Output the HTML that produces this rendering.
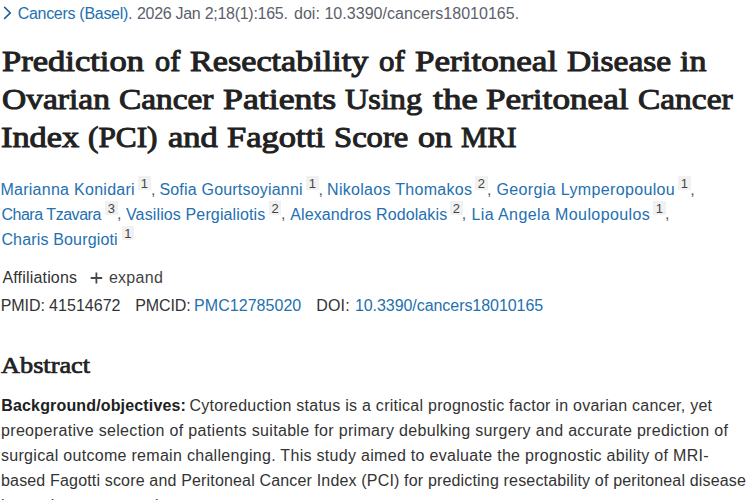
<!DOCTYPE html>
<html><head><meta charset="utf-8">
<style>
html,body{margin:0;padding:0;background:#fff;width:750px;height:500px;overflow:hidden;position:relative}
body{font-family:"Liberation Sans",sans-serif;color:#212121}
.s{position:absolute;white-space:nowrap;line-height:16px;font-size:16px}
.sans{font-family:"Liberation Sans",sans-serif;font-size:16px;color:#333}
.blue{color:#2470b0}
.gray{color:#5b616b}
.dgray{color:#444}
.title{font-family:"Liberation Serif",serif;font-weight:normal;font-size:30px;line-height:31px;color:#212121;transform-origin:0 0;-webkit-text-stroke:1px #212121}
.serifr{font-family:"Liberation Serif",serif;font-size:24px;line-height:24px;color:#212121;transform-origin:0 0;-webkit-text-stroke:0.7px #212121}
.sup{position:absolute;width:12.5px;height:14px;background:#f1f1f1;color:#444;font-size:13px;line-height:16px;text-align:center}
.cm{position:absolute;font-size:16px;line-height:16px;color:#5b616b}
</style></head><body>
<svg style="position:absolute;left:3px;top:6px" width="9" height="14" viewBox="0 0 9 14"><path d="M1.2 0.9 L7.3 6.9 L1.2 12.9" fill="none" stroke="#1b5e9e" stroke-width="1.5"/></svg>
<div class="s sans blue" id="c1" style="left:17.70px;top:6px;letter-spacing:-0.293px">Cancers (Basel).</div>
<div class="s sans gray" id="c2" style="left:136.90px;top:6px;letter-spacing:-0.280px">2026 Jan 2;18(1):165.</div>
<div class="s sans gray" id="c3" style="left:294.00px;top:6px;letter-spacing:0.036px">doi: 10.3390/cancers18010165.</div>
<div class="s title" id="t1w0" style="left:2.00px;top:45px;transform:scaleX(1.1516)">Prediction</div>
<div class="s title" id="t1w1" style="left:154.96px;top:45px;transform:scaleX(1.0089)">of</div>
<div class="s title" id="t1w2" style="left:190.27px;top:45px;transform:scaleX(1.1383)">Resectability</div>
<div class="s title" id="t1w3" style="left:378.91px;top:45px;transform:scaleX(1.0314)">of</div>
<div class="s title" id="t1w4" style="left:414.61px;top:45px;transform:scaleX(1.1688)">Peritoneal</div>
<div class="s title" id="t1w5" style="left:567.06px;top:45px;transform:scaleX(1.1164)">Disease</div>
<div class="s title" id="t1w6" style="left:680.00px;top:45px;transform:scaleX(1.1294)">in</div>
<div class="s title" id="t2w0" style="left:2.07px;top:83px;transform:scaleX(1.1173)">Ovarian</div>
<div class="s title" id="t2w1" style="left:118.78px;top:83px;transform:scaleX(1.1110)">Cancer</div>
<div class="s title" id="t2w2" style="left:222.83px;top:83px;transform:scaleX(1.1920)">Patients</div>
<div class="s title" id="t2w3" style="left:345.41px;top:83px;transform:scaleX(1.0762)">Using</div>
<div class="s title" id="t2w4" style="left:433.23px;top:83px;transform:scaleX(1.2167)">the</div>
<div class="s title" id="t2w5" style="left:486.44px;top:83px;transform:scaleX(1.1717)">Peritoneal</div>
<div class="s title" id="t2w6" style="left:637.60px;top:83px;transform:scaleX(1.1135)">Cancer</div>
<div class="s title" id="t3w0" style="left:1.47px;top:121px;transform:scaleX(1.1444)">Index</div>
<div class="s title" id="t3w1" style="left:88.25px;top:121px;transform:scaleX(1.0425)">(PCI)</div>
<div class="s title" id="t3w2" style="left:168.16px;top:121px;transform:scaleX(1.1499)">and</div>
<div class="s title" id="t3w3" style="left:227.48px;top:121px;transform:scaleX(1.1508)">Fagotti</div>
<div class="s title" id="t3w4" style="left:333.79px;top:121px;transform:scaleX(1.0873)">Score</div>
<div class="s title" id="t3w5" style="left:417.72px;top:121px;transform:scaleX(1.1405)">on</div>
<div class="s title" id="t3w6" style="left:460.92px;top:121px;transform:scaleX(0.9806)">MRI</div>
<div class="s sans blue" id="a1n0" style="left:0.40px;top:182px;letter-spacing:0.275px">Marianna Konidari</div>
<div class="s sans blue" id="a1n1" style="left:159.40px;top:182px;letter-spacing:0.200px">Sofia Gourtsoyianni</div>
<div class="s sans blue" id="a1n2" style="left:327.10px;top:182px;letter-spacing:0.288px">Nikolaos Thomakos</div>
<div class="s sans blue" id="a1n3" style="left:496.50px;top:182px;letter-spacing:0.360px">Georgia Lymperopoulou</div>
<div class="s sans blue" id="a2n0" style="left:1.40px;top:207px;letter-spacing:-0.467px">Chara Tzavara</div>
<div class="s sans blue" id="a2n1" style="left:126.00px;top:207px;letter-spacing:0.130px">Vasilios Pergialiotis</div>
<div class="s sans blue" id="a2n2" style="left:290.20px;top:207px;letter-spacing:0.116px">Alexandros Rodolakis</div>
<div class="s sans blue" id="a2n3" style="left:471.50px;top:207px;letter-spacing:0.400px">Lia Angela Moulopoulos</div>
<div class="s sans blue" id="a3n0" style="left:1.40px;top:232px;letter-spacing:0.160px">Charis Bourgioti</div>
<div class="s sans" id="aff" style="left:2.40px;top:270px;letter-spacing:0.182px">Affiliations</div>
<div class="s sans dgray" id="exp" style="left:108.90px;top:270px;letter-spacing:0.280px">expand</div>
<div class="s sans" id="pm1" style="left:0.70px;top:298px;letter-spacing:-0.050px">PMID:</div>
<div class="s sans" id="pm2" style="left:49.10px;top:298px;letter-spacing:0.029px">41514672</div>
<div class="s sans" id="pm3" style="left:135.30px;top:298px;letter-spacing:-0.120px">PMCID:</div>
<div class="s sans blue" id="pm4" style="left:194.10px;top:298px;letter-spacing:0.040px">PMC12785020</div>
<div class="s sans" id="pm5" style="left:316.30px;top:298px;letter-spacing:0.133px">DOI:</div>
<div class="s sans blue" id="pm6" style="left:354.90px;top:298px;letter-spacing:-0.055px">10.3390/cancers18010165</div>
<div class="s serifr" id="abs" style="left:0.92px;top:353px;transform:scaleX(1.0953)">Abstract</div>
<div class="s sans" id="p1a" style="left:1.30px;top:398px;letter-spacing:0.152px"><b style="color:#212121">Background/objectives:</b></div>
<div class="s sans" id="p1b" style="left:189.50px;top:398px;letter-spacing:0.259px">Cytoreduction status is a critical prognostic factor in ovarian cancer, yet</div>
<div class="s sans" id="p2" style="left:1.00px;top:423px;letter-spacing:0.327px">preoperative selection of patients suitable for primary debulking surgery and accurate prediction of</div>
<div class="s sans" id="p3" style="left:1.00px;top:448px;letter-spacing:0.299px">surgical outcome remain challenging. This study aimed to evaluate the prognostic ability of MRI-</div>
<div class="s sans" id="p4" style="left:1.00px;top:473px;letter-spacing:0.169px">based Fagotti score and Peritoneal Cancer Index (PCI) for predicting resectability of peritoneal disease</div>
<div class="s sans" id="p5" style="left:1.00px;top:498px;letter-spacing:0.260px">in ovarian cancer patients.</div>
<div class="sup" style="left:138.2px;top:176.2px">1</div>
<div class="sup" style="left:306.1px;top:176.2px">1</div>
<div class="sup" style="left:475.0px;top:176.2px">2</div>
<div class="sup" style="left:678.2px;top:176.2px">1</div>
<div class="sup" style="left:105.0px;top:201.1px">3</div>
<div class="sup" style="left:268.9px;top:201.1px">2</div>
<div class="sup" style="left:450.0px;top:201.1px">2</div>
<div class="sup" style="left:653.2px;top:201.1px">1</div>
<div class="sup" style="left:121.6px;top:226.0px">1</div>
<div class="cm" style="left:151.0px;top:181.5px">,</div>
<div class="cm" style="left:318.6px;top:181.5px">,</div>
<div class="cm" style="left:487.0px;top:181.5px">,</div>
<div class="cm" style="left:690.2px;top:181.5px">,</div>
<div class="cm" style="left:117.0px;top:206.4px">,</div>
<div class="cm" style="left:280.9px;top:206.4px">,</div>
<div class="cm" style="left:461.7px;top:206.4px">,</div>
<div class="cm" style="left:665.0px;top:206.4px">,</div>
<svg style="position:absolute;left:90px;top:271.5px" width="13" height="12" viewBox="0 0 13 12"><path d="M0.7 6 H12.2 M6.4 0.6 V11.4" stroke="#484848" stroke-width="1.8"/></svg>
</body></html>
